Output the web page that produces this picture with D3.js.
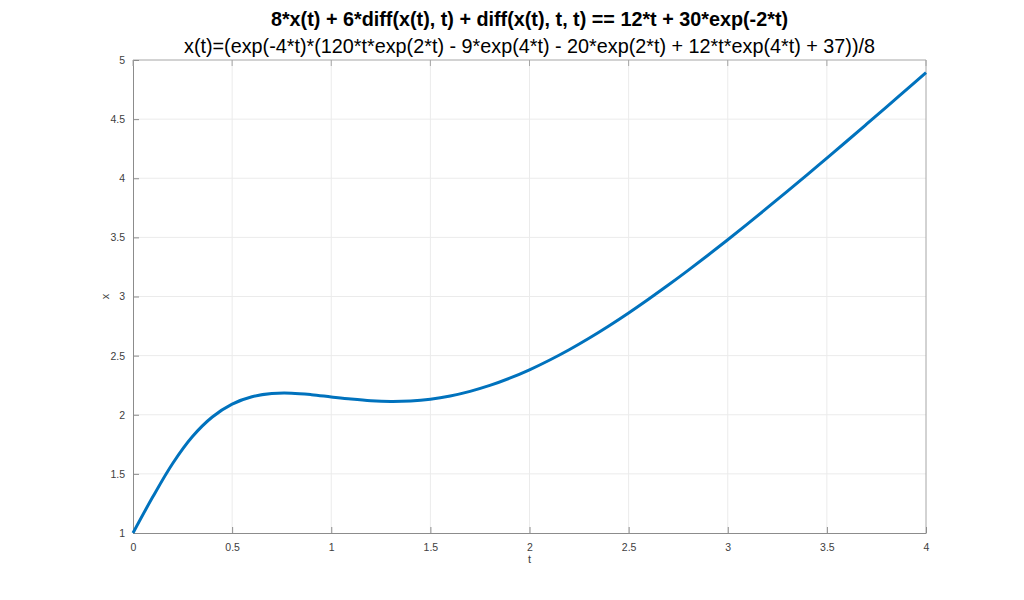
<!DOCTYPE html>
<html>
<head>
<meta charset="utf-8">
<script src="https://cdn.jsdelivr.net/npm/d3@7"></script>
<style>
  body { margin: 0; background: #fff; }
  text { font-family: Arial, "Liberation Sans", sans-serif; }
</style>
</head>
<body>
<svg id="chart" width="1024" height="600"></svg>
<script>
// values, every 0.1 in t
const tValues = [0, 0.1, 0.2, 0.3, 0.4, 0.5, 0.6, 0.7, 0.8, 0.9, 1.0,
  1.1, 1.2, 1.3, 1.4, 1.5, 1.6, 1.7, 1.8, 1.9, 2.0,
  2.1, 2.2, 2.3, 2.4, 2.5, 2.6, 2.7, 2.8, 2.9, 3.0,
  3.1, 3.2, 3.3, 3.4, 3.5, 3.6, 3.7, 3.8, 3.9, 4.0];
const xValues = [1.000, 1.306, 1.588, 1.816, 1.981, 2.090, 2.152, 2.179, 2.182, 2.170, 2.151,
  2.133, 2.119, 2.113, 2.117, 2.132, 2.159, 2.198, 2.248, 2.309, 2.380,
  2.461, 2.550, 2.647, 2.751, 2.861, 2.977, 3.097, 3.221, 3.349, 3.480,
  3.614, 3.751, 3.889, 4.029, 4.171, 4.313, 4.457, 4.602, 4.748, 4.894];
const xTicks = [0, 0.5, 1, 1.5, 2, 2.5, 3, 3.5, 4];
const yTicks = [1, 1.5, 2, 2.5, 3, 3.5, 4, 4.5, 5];
const titleText = '8*x(t) + 6*diff(x(t), t) + diff(x(t), t, t) == 12*t + 30*exp(-2*t)';
const subtitleText = 'x(t)=(exp(-4*t)*(120*t*exp(2*t) - 9*exp(4*t) - 20*exp(2*t) + 12*t*exp(4*t) + 37))/8';

const svg = d3.select('#chart');
const plotL = 133, plotR = 926, plotT = 60, plotB = 533;

const x = d3.scaleLinear().domain([0, 4]).range([plotL, plotR]);
const y = d3.scaleLinear().domain([1, 5]).range([plotB, plotT]);

// grid
svg.append('g')
  .selectAll('line')
  .data(xTicks.slice(1, -1))
  .join('line')
  .attr('x1', d => x(d)).attr('x2', d => x(d))
  .attr('y1', plotT).attr('y2', plotB)
  .attr('stroke', '#ebebeb').attr('stroke-width', 1);
svg.append('g')
  .selectAll('line')
  .data(yTicks.slice(1, -1))
  .join('line')
  .attr('x1', plotL).attr('x2', plotR)
  .attr('y1', d => y(d)).attr('y2', d => y(d))
  .attr('stroke', '#ebebeb').attr('stroke-width', 1);

// box top/right
svg.append('path')
  .attr('d', `M${plotL},${plotT}H${plotR}V${plotB}`)
  .attr('fill', 'none').attr('stroke', '#a6a6a6').attr('stroke-width', 1);

// axes
const xAxis = d3.axisBottom(x).tickValues(xTicks).tickSizeInner(-6).tickSizeOuter(0)
  .tickPadding(11).tickFormat(d3.format('~g'));
const yAxis = d3.axisLeft(y).tickValues(yTicks).tickSizeInner(-6).tickSizeOuter(0)
  .tickPadding(8).tickFormat(d3.format('~g'));

const gx = svg.append('g').attr('transform', `translate(0,${plotB})`).call(xAxis);
const gy = svg.append('g').attr('transform', `translate(${plotL},0)`).call(yAxis);
[gx, gy].forEach(g => {
  g.select('.domain').attr('stroke', '#8c8c8c');
  g.selectAll('.tick line').attr('stroke', '#8c8c8c');
  g.selectAll('.tick text').attr('fill', '#404040').attr('font-size', 10.5)
    .style('font-family', 'Arial, "Liberation Sans", sans-serif');
});
// top ticks
svg.append('g').selectAll('line')
  .data(xTicks)
  .join('line')
  .attr('x1', d => x(d)).attr('x2', d => x(d))
  .attr('y1', plotT).attr('y2', plotT + 6)
  .attr('stroke', '#a6a6a6');

// curve
const line = d3.line()
  .x((d, i) => x(tValues[i]))
  .y(d => y(d))
  .curve(d3.curveCatmullRom);
svg.append('path')
  .datum(xValues)
  .attr('d', line)
  .attr('fill', 'none')
  .attr('stroke', '#0072BD')
  .attr('stroke-width', 3);

// labels
svg.append('text')
  .attr('x', (plotL + plotR) / 2).attr('y', 563)
  .attr('text-anchor', 'middle').attr('font-size', 11).attr('fill', '#404040')
  .text('t');
svg.append('text')
  .attr('transform', `translate(109,${(plotT + plotB) / 2}) rotate(-90)`)
  .attr('text-anchor', 'middle').attr('font-size', 11).attr('fill', '#404040')
  .text('x');

svg.append('text')
  .attr('x', (plotL + plotR) / 2).attr('y', 26)
  .attr('text-anchor', 'middle').attr('font-size', 19.8).attr('font-weight', 'bold')
  .attr('fill', '#000')
  .text(titleText);
svg.append('text')
  .attr('x', (plotL + plotR) / 2).attr('y', 53)
  .attr('text-anchor', 'middle').attr('font-size', 19.8)
  .attr('fill', '#000')
  .text(subtitleText);
</script>
</body>
</html>
